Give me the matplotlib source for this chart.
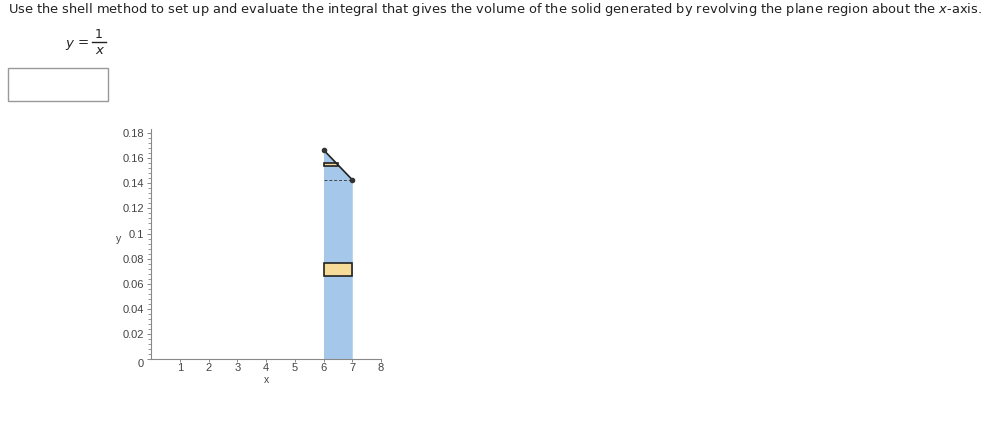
import matplotlib.pyplot as plt
import matplotlib.patches as mpatches
import matplotlib.transforms as mtransforms
from matplotlib.lines import Line2D
from matplotlib.ticker import MultipleLocator, FixedLocator

plt.rcParams["mathtext.fontset"] = "dejavusans"

# region: y = 1/x between x = 6 and x = 7
x_a, x_b = 6, 7
curve_x = [6, 7]
curve_y = [1 / 6, 1 / 7]
# shells (horizontal rectangles)
shell_small = (6, 0.1539, 6.5, 0.1566)   # x0, y0, x1, y1
shell_big = (6, 0.0663, 7, 0.0767)
yticks = [0, 0.02, 0.04, 0.06, 0.08, 0.1, 0.12, 0.14, 0.16, 0.18]
ytick_labels = ["0", "0.02", "0.04", "0.06", "0.08", "0.1", "0.12", "0.14", "0.16", "0.18"]
xticks = [1, 2, 3, 4, 5, 6, 7, 8]

W, H = 997, 422
fig = plt.figure(figsize=(W / 100, H / 100), dpi=100)
txt = "#222222"

# header text
fig.text(8 / W, 1 - 10 / H,
         "Use the shell method to set up and evaluate the integral that gives the volume of the solid "
         "generated by revolving the plane region about the $x$-axis.",
         fontsize=9.4, family="DejaVu Sans", va="center", ha="left", color=txt)

# equation y = 1/x
fig.text(69 / W, 1 - 43 / H, "y", fontsize=9.6, family="DejaVu Sans", style="italic", va="center", ha="center", color=txt)
fig.text(83 / W, 1 - 42.5 / H, "=", fontsize=9.6, family="DejaVu Sans", va="center", ha="center", color=txt)
fig.text(99 / W, 1 - 34 / H, "1", fontsize=9, family="DejaVu Sans", va="center", ha="center", color=txt)
fig.text(99 / W, 1 - 51 / H, "x", fontsize=9.6, family="DejaVu Sans", style="italic", va="center", ha="center", color=txt)
fig.add_artist(Line2D([92 / W, 106 / W], [1 - 41.7 / H, 1 - 41.7 / H], color=txt, lw=1))

# answer box
fig.add_artist(mpatches.Rectangle((8 / W, 1 - 101 / H), 100 / W, 33 / H, fill=False,
                                  edgecolor="#999999", lw=1, transform=fig.transFigure))

ax = fig.add_axes([151 / W, (H - 359) / H, 230 / W, 230.5 / H])
ax.set_xlim(0, 8)
ax.set_ylim(0, 0.1837)

# region fill
ax.fill_between(curve_x, [0, 0], curve_y, color="#a5c8ea", lw=0)

# shells
for x0, y0, x1, y1 in [shell_small, shell_big]:
    ax.add_patch(mpatches.Rectangle((x0, y0), x1 - x0, y1 - y0, facecolor="#f6dc98",
                                    edgecolor="#222222", lw=1.2, zorder=3))

# curve and dashed level
ax.plot(curve_x, curve_y, color="#222222", lw=1.2, zorder=4)
ax.plot(curve_x, curve_y, "o", color="#333333", ms=3, zorder=5)
ax.plot([x_a, x_b], [curve_y[1], curve_y[1]], "--", color="#444444", lw=0.7, dashes=(3, 2), zorder=4)

for s in ["top", "right"]:
    ax.spines[s].set_visible(False)
for s in ["left", "bottom"]:
    ax.spines[s].set_color("#888888")
    ax.spines[s].set_linewidth(0.8)

ax.xaxis.set_major_locator(FixedLocator(xticks))
ax.set_xticklabels([str(v) for v in xticks])
ax.yaxis.set_major_locator(FixedLocator(yticks))
ax.set_yticklabels(ytick_labels)
ax.yaxis.set_minor_locator(MultipleLocator(0.004))
ax.tick_params(axis="both", which="major", labelsize=8, labelcolor="#444444", color="#888888",
               width=0.7, labelfontfamily="Liberation Sans")
ax.tick_params(axis="y", which="major", length=3, pad=2)
ax.tick_params(axis="y", which="minor", length=2, width=0.6, color="#888888")
ax.tick_params(axis="x", which="major", direction="out", length=2, pad=1)

# the "0" label sits a little below the origin
zero_lbl = ax.get_yticklabels()[0]
zero_lbl.set_transform(zero_lbl.get_transform() + mtransforms.ScaledTranslation(0, -4 / 100, fig.dpi_scale_trans))

ax.set_xlabel("x", fontsize=7.5, color="#444444", family="Liberation Sans", labelpad=1)
ax.set_ylabel("y", fontsize=7.5, color="#444444", family="Liberation Sans", rotation=0, labelpad=3)

fig.savefig("out.png", dpi=100)
